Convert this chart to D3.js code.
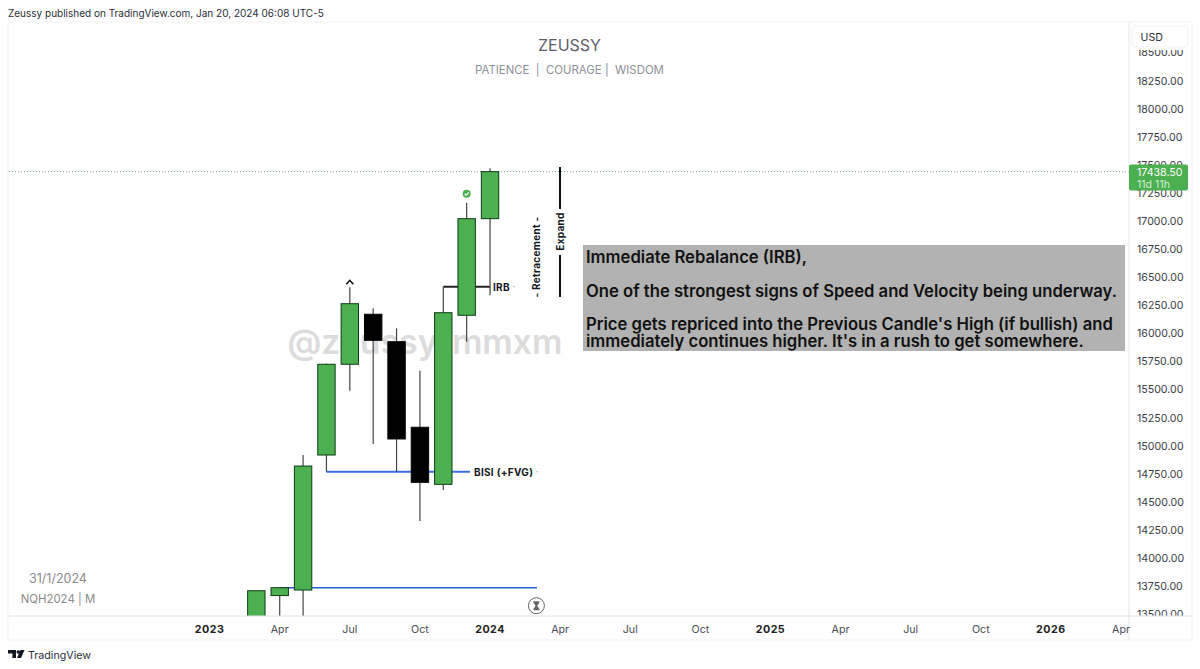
<!DOCTYPE html>
<html>
<head>
<meta charset="utf-8">
<script src="https://cdn.jsdelivr.net/npm/d3@7"></script>
<style>
html, body { margin: 0; background: #fff; }
svg { display: block; font-family: Inter, "Liberation Sans", sans-serif; }
</style>
</head>
<body>
<svg id="chart" width="1200" height="669"></svg>
<script>
// monthly NQH2024 candles, month index 0 = Jan 2023
const months = [2, 3, 4, 5, 6, 7, 8, 9, 10, 11, 12];
const opens  = [12200, 13665, 13714, 14916, 15724, 16169, 15925, 15163, 14655, 16160, 17020];
const highs  = [13708, 13740, 14916, 15730, 16409, 16222, 16044, 15667, 16415, 17162, 17468];
const lows   = [12100, 13000, 13200, 14767, 15488, 15014, 14767, 14329, 14605, 15925, 16338];
const closes = [13708, 13735, 14818, 15724, 16263, 15937, 15059, 14673, 16183, 17020, 17438.5];

const priceTicks = [13500, 13750, 14000, 14250, 14500, 14750, 15000, 15250, 15500, 15750, 16000,
  16250, 16500, 16750, 17000, 17250, 17500, 17750, 18000, 18250, 18500];
const timeTicks = [0, 3, 6, 9, 12, 15, 18, 21, 24, 27, 30, 33, 36, 39];
const timeLabels = ["2023", "Apr", "Jul", "Oct", "2024", "Apr", "Jul", "Oct", "2025", "Apr", "Jul", "Oct", "2026", "Apr"];

const lastPrice = 17438.5;
const irbLevel = 16415, bisiLevel = 14767, lowerLevel = 13735;

const green = "#4caf50", edge = "#0f3d16", black = "#000000";
const plotLeft = 9, plotRight = 1129, plotTop = 23, plotBottom = 616, outerRight = 1192, axisBottom = 640;

const svg = d3.select("#chart");
const x = d3.scaleLinear().domain([0, 39]).range([209.6, 1121]);
const y = d3.scaleLinear().domain([13750, 18250]).range([586, 80.5]);

// frame
svg.append("rect").attr("x", plotLeft - 1).attr("y", plotTop - 1)
  .attr("width", outerRight - plotLeft + 1).attr("height", axisBottom - plotTop + 1)
  .attr("fill", "none").attr("stroke", "#f3f3f5");

const defs = svg.append("defs");
defs.append("clipPath").attr("id", "plot").append("rect")
  .attr("x", plotLeft).attr("y", plotTop).attr("width", plotRight - plotLeft).attr("height", plotBottom - plotTop);
defs.append("clipPath").attr("id", "scale").append("rect")
  .attr("x", plotRight).attr("y", 50).attr("width", outerRight - plotRight).attr("height", plotBottom - 50);

// watermark sits under the candles
svg.append("text").attr("x", 425).attr("y", 354).attr("text-anchor", "middle")
  .attr("font-size", 33.8).attr("font-weight", 600).attr("fill", "#dcdcdc").text("@zeussy_mmxm");

svg.append("text").attr("x", 569.5).attr("y", 51).attr("text-anchor", "middle")
  .attr("font-size", 16).attr("fill", "#5d606b").text("ZEUSSY");
svg.append("text").attr("x", 569.5).attr("y", 74).attr("text-anchor", "middle")
  .attr("font-size", 11.4).attr("fill", "#8b8f9a").attr("xml:space", "preserve").text("PATIENCE  |  COURAGE |  WISDOM");

// last price line
svg.append("line").attr("x1", plotLeft).attr("x2", plotRight).attr("y1", y(lastPrice)).attr("y2", y(lastPrice))
  .attr("stroke", "#7fa886").attr("stroke-dasharray", "1 2");

const plot = svg.append("g").attr("clip-path", "url(#plot)");

// drawn levels, behind the candles
plot.append("line").attr("x1", x(10)).attr("x2", x(12)).attr("y1", y(irbLevel)).attr("y2", y(irbLevel))
  .attr("stroke", "#222").attr("stroke-width", 2);
plot.append("line").attr("x1", x(5)).attr("x2", 470).attr("y1", y(bisiLevel)).attr("y2", y(bisiLevel))
  .attr("stroke", "#3b6fe0").attr("stroke-width", 2);
plot.append("line").attr("x1", x(3)).attr("x2", 537).attr("y1", y(lowerLevel)).attr("y2", y(lowerLevel))
  .attr("stroke", "#2a5bd0").attr("stroke-width", 1.5);

const candles = plot.selectAll("g.candle").data(months).enter().append("g").attr("class", "candle");
candles.append("line")
  .attr("x1", d => x(d)).attr("x2", d => x(d))
  .attr("y1", (d, i) => y(highs[i])).attr("y2", (d, i) => y(lows[i]))
  .attr("stroke", "#444").attr("stroke-width", 1.2);
candles.append("rect")
  .attr("x", d => x(d) - 8.7).attr("width", 17.4)
  .attr("y", (d, i) => y(Math.max(opens[i], closes[i])))
  .attr("height", (d, i) => Math.abs(y(opens[i]) - y(closes[i])))
  .attr("fill", (d, i) => closes[i] >= opens[i] ? green : black)
  .attr("stroke", (d, i) => closes[i] >= opens[i] ? edge : black)
  .attr("stroke-width", 1);

// markers above candles
svg.append("path").attr("fill", "none").attr("stroke", "#111").attr("stroke-width", 1.5)
  .attr("d", `M${x(6) - 3.5},${y(highs[4]) - 3}l3.5,-4l3.5,4`);
svg.append("circle").attr("cx", x(11)).attr("cy", y(highs[9]) - 9).attr("r", 4).attr("fill", green);
svg.append("path").attr("fill", "none").attr("stroke", "#fff").attr("stroke-width", 1.2)
  .attr("d", `M${x(11) - 2},${y(highs[9]) - 9}l1.5,1.5l2.6,-2.8`);

// annotations
const note = (tx, ty, t, rot) => svg.append("text").attr("x", tx).attr("y", ty).attr("font-size", 10)
  .attr("font-weight", 700).attr("fill", "#131722").attr("letter-spacing", 0.3)
  .attr("text-anchor", rot ? "middle" : "start")
  .attr("transform", rot ? `rotate(-90 ${tx} ${ty})` : null).attr("xml:space", "preserve").text(t);
note(493, 291, "IRB");
note(474, 476, "BISI (+FVG)");
note(540, 257, "- Retracement -", true);
note(564, 231.5, "Expand", true);
svg.append("path").attr("fill", "none").attr("stroke", "#111").attr("stroke-width", 2)
  .attr("d", "M560,167V209M560,255V297");
svg.append("path").attr("fill", "none").attr("stroke", "#777").attr("stroke-width", 1)
  .attr("d", `M513.5,${y(irbLevel)}h1M536.5,${y(bisiLevel)}h1`);

// grey text box
svg.append("rect").attr("x", 583).attr("y", 245).attr("width", 542).attr("height", 106).attr("fill", "#b2b2b2");
const boxLines = [
  ["Immediate Rebalance (IRB),", 263],
  ["One of the strongest signs of Speed and Velocity being underway.", 297],
  ["Price gets repriced into the Previous Candle's High (if bullish) and", 330],
  ["immediately continues higher. It's in a rush to get somewhere.", 347]
];
svg.selectAll("text.box").data(boxLines).enter().append("text").attr("class", "box")
  .attr("x", 586).attr("y", d => d[1]).attr("font-size", 16.65).attr("font-weight", 600)
  .attr("fill", "#111").text(d => d[0]);

// hourglass badge
svg.append("circle").attr("cx", 536.4).attr("cy", 605.7).attr("r", 8).attr("fill", "#fff").attr("stroke", "#666").attr("stroke-width", 1);
svg.append("path").attr("fill", "#666").attr("d", "M533.4,601.2h6v1.2l-2.2,3.3l2.2,3.3v1.2h-6v-1.2l2.2,-3.3l-2.2,-3.3z");

// side labels
svg.append("text").attr("x", 58).attr("y", 583).attr("text-anchor", "middle").attr("font-size", 12.5).attr("fill", "#8b8b8b").text("31/1/2024");
svg.append("text").attr("x", 58).attr("y", 603).attr("text-anchor", "middle").attr("font-size", 11.4).attr("fill", "#8b8b8b").text("NQH2024 | M");

// price scale
svg.append("line").attr("x1", plotRight).attr("x2", plotRight).attr("y1", plotTop).attr("y2", axisBottom).attr("stroke", "#e6e6ea");
const yAxis = svg.append("g").attr("clip-path", "url(#scale)");
yAxis.selectAll("text").data(priceTicks).enter().append("text")
  .attr("x", 1137).attr("y", d => y(d) + 4).attr("font-size", 10.6).attr("fill", "#3a3d45")
  .text(d => d3.format(".2f")(d));
svg.append("rect").attr("x", 1132).attr("y", 26).attr("width", 56).attr("height", 21).attr("rx", 3)
  .attr("fill", "#fff").attr("stroke", "#f2f2f4");
svg.append("text").attr("x", 1140.5).attr("y", 41).attr("font-size", 10.6).attr("fill", "#2a2e39").text("USD");

svg.append("rect").attr("x", 1129).attr("y", 164.5).attr("width", 59).attr("height", 26).attr("rx", 2).attr("fill", green);
svg.append("text").attr("x", 1137).attr("y", 176).attr("font-size", 10.6).attr("fill", "#fff").text(d3.format(".2f")(lastPrice));
svg.append("text").attr("x", 1137).attr("y", 188).attr("font-size", 10.6).attr("fill", "#d5efd6").text("11d 11h");

// time axis
svg.append("line").attr("x1", plotLeft).attr("x2", outerRight).attr("y1", plotBottom).attr("y2", plotBottom).attr("stroke", "#e2e2e6");
svg.selectAll("text.tick").data(timeTicks).enter().append("text").attr("class", "tick")
  .attr("x", d => x(d)).attr("y", 632.5).attr("text-anchor", "middle").attr("font-size", 10.7)
  .attr("font-weight", (d, i) => /^\d/.test(timeLabels[i]) ? 700 : 400)
  .attr("fill", (d, i) => /^\d/.test(timeLabels[i]) ? "#222" : "#4a4d55")
  .attr("letter-spacing", (d, i) => /^\d/.test(timeLabels[i]) ? 0.5 : 0)
  .text((d, i) => timeLabels[i]);

// header and footer
svg.append("text").attr("x", 8).attr("y", 17).attr("font-size", 10).attr("fill", "#2a2e39")
  .text("Zeussy published on TradingView.com, Jan 20, 2024 06:08 UTC-5");
svg.append("path").attr("fill", "#131722")
  .attr("d", "M8,650h8v8h-3.6v-4.4h-4.4zM24.5,650l-3.5,8h-4l3.5,-8z");
svg.append("circle").attr("cx", 18.3).attr("cy", 652).attr("r", 1.8).attr("fill", "#131722");
svg.append("text").attr("x", 28).attr("y", 659).attr("font-size", 10.7).attr("fill", "#2a2e39").text("TradingView");
</script>
</body>
</html>
